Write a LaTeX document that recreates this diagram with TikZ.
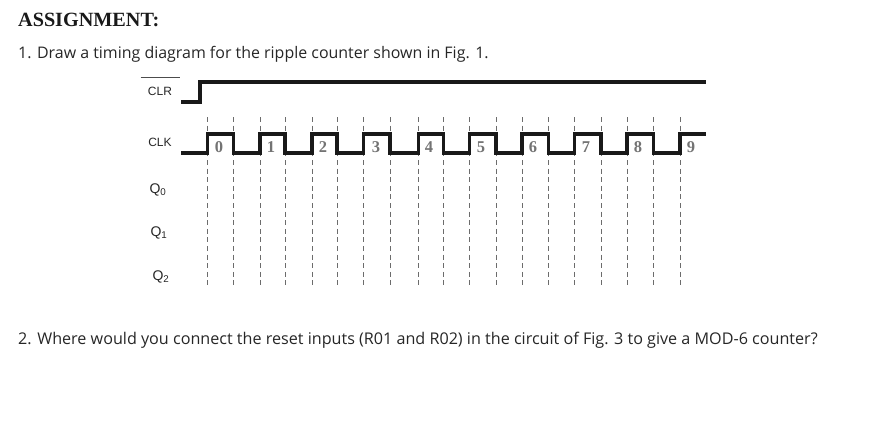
\documentclass[tikz,border=0pt]{standalone}
\usepackage{fontspec}
\setmainfont{Open Sans}
\newfontfamily\titlefont{Liberation Serif}
\newfontfamily\labelfont{Liberation Sans}

\tikzset{
  wave/.style={line width=3.3pt, line join=miter, black!90},
  guide/.style={line width=1pt, gray!85!black, dash pattern=on 5pt off 3.6pt},
  linetext/.style={anchor=base west, inner sep=0pt, black!85},
  signame/.style={inner sep=0pt, font=\labelfont\fontsize{12}{14}\selectfont, black!85},
  qname/.style={inner sep=0pt, font=\labelfont\fontsize{14}{16}\selectfont, black!85},
  pulsenum/.style={inner sep=0pt, font=\titlefont\bfseries\fontsize{16.5}{18}\selectfont, black!55},
}

\begin{document}
\begin{tikzpicture}[x=1pt, y=1pt, yscale=-1, xscale=1]
\useasboundingbox (0, 0) rectangle (883, 421);
%Dashed guides
\draw [guide] (207.5, 117) -- (207.5, 288);
\draw [guide] (233.5, 117) -- (233.5, 288);
\draw [guide] (260, 117) -- (260, 288);
\draw [guide] (285, 117) -- (285, 288);
\draw [guide] (312, 117) -- (312, 288);
\draw [guide] (337, 117) -- (337, 288);
\draw [guide] (363.5, 117) -- (363.5, 288);
\draw [guide] (390, 117) -- (390, 288);
\draw [guide] (418.5, 117) -- (418.5, 288);
\draw [guide] (443.5, 117) -- (443.5, 288);
\draw [guide] (469.5, 117) -- (469.5, 288);
\draw [guide] (496, 117) -- (496, 288);
\draw [guide] (522, 117) -- (522, 288);
\draw [guide] (548.5, 117) -- (548.5, 288);
\draw [guide] (574.5, 117) -- (574.5, 288);
\draw [guide] (601, 117) -- (601, 288);
\draw [guide] (627, 117) -- (627, 288);
\draw [guide] (653.5, 117) -- (653.5, 288);
\draw [guide] (680, 117) -- (680, 288);
%Waves
\draw [wave] (181, 102) -- (200, 102) -- (200, 82) -- (706, 82);
\draw [wave] (181, 153) -- (207.5, 153) -- (207.5, 134) -- (233.5, 134) -- (233.5, 153)
  -- (260, 153) -- (260, 134) -- (285, 134) -- (285, 153)
  -- (312, 153) -- (312, 134) -- (337, 134) -- (337, 153)
  -- (363.5, 153) -- (363.5, 134) -- (390, 134) -- (390, 153)
  -- (418.5, 153) -- (418.5, 134) -- (443.5, 134) -- (443.5, 153)
  -- (469.5, 153) -- (469.5, 134) -- (496, 134) -- (496, 153)
  -- (522, 153) -- (522, 134) -- (548.5, 134) -- (548.5, 153)
  -- (574.5, 153) -- (574.5, 134) -- (601, 134) -- (601, 153)
  -- (627, 153) -- (627, 134) -- (653.5, 134) -- (653.5, 153)
  -- (680, 153) -- (680, 134) -- (706, 134);
\draw [line width=1.6pt, gray!60!black] (140.5, 77.5) -- (179.5, 77.5);
%Text
\node [anchor=base west, inner sep=0pt, font=\titlefont\bfseries\fontsize{20.2}{22}\selectfont, black!90] (title) at (18, 26) {ASSIGNMENT:};
\node [linetext, font=\fontsize{15.95}{18}\selectfont] (lineone) at (18, 58) {1. Draw a timing diagram for the ripple counter shown in Fig. 1.};
\node [linetext, font=\fontsize{16.14}{18}\selectfont] (linetwo) at (18, 344) {2. Where would you connect the reset inputs (R01 and R02) in the circuit of Fig. 3 to give a MOD-6 counter?};
\node [signame] (clr) at (160, 91) {CLR};
\node [signame] (clk) at (160, 142) {CLK};
\node [qname] (qzero) at (158, 190) {Q\textsubscript{0}};
\node [qname] (qone) at (159, 233) {Q\textsubscript{1}};
\node [qname] (qtwo) at (161, 277) {Q\textsubscript{2}};
\node [pulsenum] (num0) at (219, 147) {0};
\node [pulsenum] (num1) at (271, 147) {1};
\node [pulsenum] (num2) at (323, 147) {2};
\node [pulsenum] (num3) at (376, 147) {3};
\node [pulsenum] (num4) at (429, 147) {4};
\node [pulsenum] (num5) at (481, 147) {5};
\node [pulsenum] (num6) at (533, 147) {6};
\node [pulsenum] (num7) at (586, 147) {7};
\node [pulsenum] (num8) at (638, 147) {8};
\node [pulsenum] (num9) at (691, 147) {9};
\end{tikzpicture}
\end{document}
